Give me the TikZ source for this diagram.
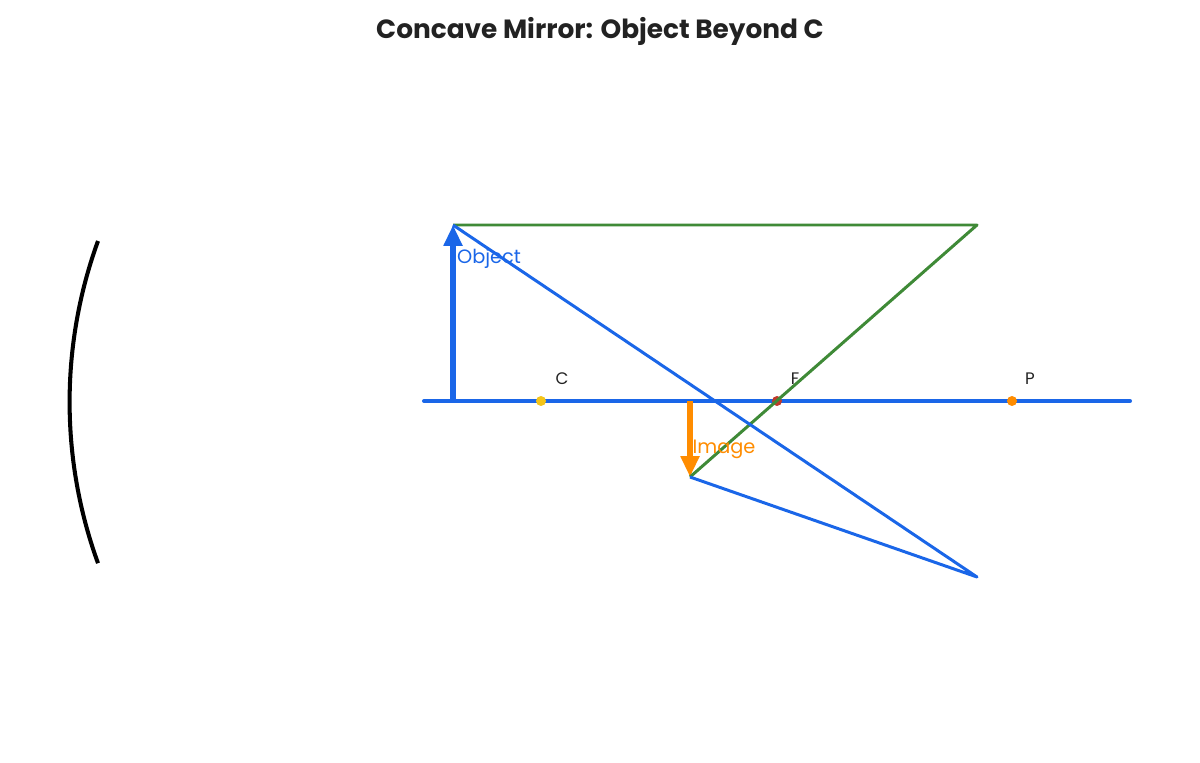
\documentclass[tikz,border=0pt]{standalone}
\usepackage{fontspec}
\setmainfont{Poppins}
\usetikzlibrary{arrows.meta}
\definecolor{raybl}{HTML}{1A66E8}
\definecolor{raygr}{HTML}{3F8A37}
\definecolor{imgor}{HTML}{FF8C00}
\definecolor{ptyel}{HTML}{F5C518}
\definecolor{ptred}{HTML}{C0392B}
\definecolor{titlegray}{HTML}{222222}
\tikzset{
  ray/.style={line width=1.7pt, line join=round},
  pt/.style={circle, inner sep=0pt, minimum size=0.2cm},
  ptlabel/.style={font=\fontsize{9.5}{11}\selectfont, text=titlegray},
  vec/.style={line width=3.2pt, -{Triangle[length=0.42cm, width=0.36cm]}},
}
\begin{document}
\begin{tikzpicture}[x=0.02cm,y=-0.02cm]
\useasboundingbox (0,0) rectangle (1200,763);
\node[font=\bfseries\fontsize{15}{18}\selectfont, text=titlegray] (title) at (600,31) {Concave Mirror: Object Beyond C};
% mirror
\coordinate (mtop) at (98,241);
\draw[line width=2.3pt] (mtop) arc[start angle=200, end angle=160, radius=471];
% principal axis
\coordinate (axl) at (424,401);
\coordinate (axr) at (1130,401);
\draw[raybl, line width=2.3pt, line cap=round] (axl) -- (axr);
\node[pt, fill=ptyel] (c) at (541,401) {};
\node[pt, fill=ptred] (f) at (777,401) {};
\node[pt, fill=imgor] (p) at (1012,401) {};
\node[ptlabel] (clab) at (562,379) {C};
\node[ptlabel] (flab) at (795,379) {F};
\node[ptlabel] (plab) at (1030,379) {P};
% object and image
\coordinate (obase) at (453,401);
\coordinate (otip) at (453,225);
\coordinate (ibase) at (690,401);
\coordinate (itip) at (690,477);
\draw[raybl, vec] (obase) -- (otip);
\draw[imgor, vec] (ibase) -- (itip);
% rays
\coordinate (gtop) at (977,225);
\coordinate (bbot) at (977,577);
\draw[raygr, ray] (otip) -- (gtop) -- (itip);
\draw[raybl, ray] (otip) -- (bbot) -- (itip);
\node[text=raybl, font=\fontsize{11}{13}\selectfont] (olab) at (489,259) {Object};
\node[text=imgor, font=\fontsize{11}{13}\selectfont] (ilab) at (724,449) {Image};
\end{tikzpicture}
\end{document}
